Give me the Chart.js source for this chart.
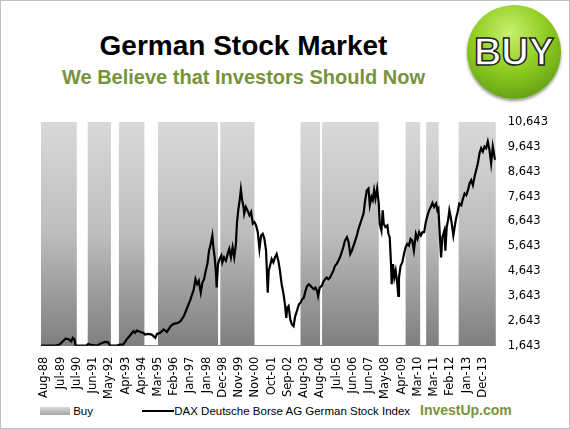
<!DOCTYPE html>
<html><head><meta charset="utf-8">
<script src="https://cdn.jsdelivr.net/npm/chart.js@4"></script>
<style>
body{margin:0;width:570px;height:429px;background:#fff;font-family:"Liberation Sans",Arial,sans-serif;overflow:hidden}
#frame{position:absolute;left:0;top:0;width:568px;height:427px;border:1px solid #bfbfbf}
#t1{position:absolute;left:0;width:487px;top:30px;text-align:center;font-weight:bold;font-size:28px;color:#000}
#t2{position:absolute;left:0;width:487px;top:66px;text-align:center;font-weight:bold;font-size:20px;color:#77933c}
#buy{position:absolute;left:467px;top:5px;width:94px;height:94px;border-radius:50%;
background:radial-gradient(circle at 45% 30%,#c8f070 0%,#8fcc20 45%,#4e8a10 100%);box-shadow:0 2px 3px #999;
text-align:center;line-height:94px;font-weight:bold;font-size:38px;color:#fff;-webkit-text-stroke:1.5px #222;font-family:"Liberation Sans",Arial}
#wrap{position:absolute;left:0;top:110px;width:560px;height:292px}
#leg{position:absolute;top:404px;left:40px;color:#000;font-family:"Liberation Sans",sans-serif;font-size:11.5px}
#iu{position:absolute;left:420px;top:402px;font-size:14px;font-weight:bold;color:#77933c}
</style></head><body>
<div id="frame"></div>
<div id="t1">German Stock Market</div>
<div id="t2">We Believe that Investors Should Now</div>
<div id="buy">BUY</div>
<div id="wrap"><canvas id="c"></canvas></div>
<div id="leg"><span style="display:inline-block;width:30px;height:8px;background:linear-gradient(#d9d9d9,#a6a6a6);vertical-align:middle"></span> <span style="vertical-align:middle">Buy</span>
<span style="display:inline-block;width:32px;height:2px;background:#000;vertical-align:middle;margin-left:46px"></span><span style="vertical-align:middle">DAX Deutsche Borse AG German Stock Index</span></div>
<div id="iu">InvestUp.com</div>
<script>
const tickLabels=["Aug-88","Jul-89","Jul-90","Jun-91","May-92","Apr-93","Apr-94","Mar-95","Feb-96","Jan-97","Jan-98","Dec-98","Nov-99","Nov-00","Oct-01","Sep-02","Aug-03","Aug-04","Jul-05","Jun-06","Jun-07","May-08","Apr-09","Mar-10","Mar-11","Feb-12","Jan-13","Dec-13"];
const weeks=[-10,35,46,56,64,71,76,81,86,91,94,127,132,137,157,172,183,193,198,218,228,238,248,259,269,274,279,289,299,304,314,324,335,340,350,360,370,381,390,401,411,421,431,441,451,456,461,466,472,477,482,487,492,497,502,507,510,514,518,520,524,529,534,537,542,548,553,558,563,568,573,578,581,585,590,593,597,601,603,608,613,619,624,629,634,639,644,649,654,659,664,669,674,677,681,686,691,696,701,706,711,716,721,726,730,733,737,742,747,752,757,762,768,773,778,783,788,793,798,803,808,813,818,823,826,831,837,842,847,852,857,862,867,872,877,882,887,892,897,902,907,913,918,923,928,933,938,943,948,953,958,963,968,973,978,982,987,991,995,999,1004,1009,1012,1017,1021,1024,1029,1035,1038,1042,1046,1048,1052,1056,1060,1065,1068,1070,1075,1080,1085,1090,1095,1100,1105,1110,1115,1121,1126,1131,1136,1141,1146,1151,1156,1161,1166,1171,1176,1182,1186,1189,1193,1197,1201,1207,1210,1214,1218,1222,1226,1230,1234,1238,1242,1247,1252,1258,1263,1268,1273,1278,1283,1288,1293,1298,1303,1308,1313,1318,1323,1328,1333,1338,1343,1348,1353,1359,1362];
const dax=[1643,1643,1684,1819,1927,1913,1873,1819,1954,1886,1643,1643,1711,1684,1643,1738,1792,1778,1643,1643,1684,1684,1886,2062,2224,2156,2251,2197,2156,2089,2116,2089,1954,2116,2156,2291,2197,2426,2521,2548,2629,2832,3169,3507,3913,4318,4115,4250,3778,4183,4318,4656,4926,5467,5737,6075,5602,5197,4521,3981,4926,5129,5264,4994,5197,5062,5332,5535,5197,5602,5197,5737,6548,7088,7561,7926,7494,7223,6953,7223,7088,6885,7020,6548,6615,6480,6210,5535,6075,6142,5940,5467,3778,4656,4859,5129,4994,5197,5332,5062,4656,4115,3778,3305,2764,3169,3237,2697,2494,2426,2832,3034,3305,3372,3507,3575,3845,4048,4115,4048,3981,3913,3981,3845,3643,3981,4048,4224,4318,4386,4318,4386,4521,4656,4859,4926,5062,5197,5399,5602,5872,6007,5805,5332,5467,5670,5872,6075,6345,6548,6750,6953,7494,7899,7967,7291,7629,7494,7899,7561,7967,7359,6548,6277,7088,6548,6413,6480,6142,6007,4926,4115,4926,4386,4656,4115,3643,4386,4859,4994,5332,5602,5737,5670,5940,5872,5467,6142,5940,6210,6075,6210,6210,6615,6885,7088,7223,7385,7223,7359,7088,7156,6142,5197,6007,6277,5467,6413,6683,7088,6818,6480,6075,6413,6750,7020,7359,7291,7561,7764,7696,7899,8169,8305,8102,8440,8710,8980,9385,9588,9453,9656,9588,9858,9520,8980,9656,9183,9115];
const buyStart=[-10,131,225,343,531,773,838,1090,1152,1250];
const buyEnd=[98,201,302,524,634,832,1009,1134,1190,1362];
const yTicks=[1643,2643,3643,4643,5643,6643,7643,8643,9643,10643];

const bands={id:'bands',beforeDatasetsDraw(ch){const {ctx,chartArea:a,scales:{x,y}}=ch;
 const g=ctx.createLinearGradient(0,a.top,0,a.bottom);g.addColorStop(0,'#d9d9d9');g.addColorStop(0.5,'#bdbdbd');g.addColorStop(1,'#7f7f7f');
 ctx.save();ctx.fillStyle=g;const t=y.getPixelForValue(10643),b=y.getPixelForValue(1643);
 buyStart.forEach((s,i)=>{const l=x.getPixelForValue(s),r=x.getPixelForValue(buyEnd[i]);ctx.fillRect(l,t,r-l,b-t);});ctx.restore();}};
new Chart(document.getElementById('c'),{type:'line',
 data:{datasets:[{data:weeks.map((w,i)=>({x:w,y:dax[i]})),borderColor:'#000',borderWidth:2.2,pointRadius:0,tension:0}]},
 options:{responsive:true,maintainAspectRatio:false,animation:false,
  layout:{padding:{left:41,top:12,right:8,bottom:0}},
  plugins:{legend:{display:false},tooltip:{enabled:false}},
  scales:{x:{type:'linear',min:-10,max:1362,grid:{display:false},border:{color:'#888'},
    afterBuildTicks(s){s.ticks=tickLabels.map((_,i)=>({value:i*49}));},
    ticks:{autoSkip:false,maxRotation:90,minRotation:90,font:{size:11.5,family:'DejaVu Sans'},color:'#000',callback:(v)=>tickLabels[Math.round(v/49)]}},
   y:{position:'right',min:1643,max:10643,grid:{display:false},border:{display:false},
    afterBuildTicks(s){s.ticks=yTicks.map(v=>({value:v}));},
    ticks:{font:{size:11.5,family:'DejaVu Sans'},color:'#000',padding:4,callback:v=>v.toLocaleString('en-US')}}}},
 plugins:[bands]});
</script></body></html>
